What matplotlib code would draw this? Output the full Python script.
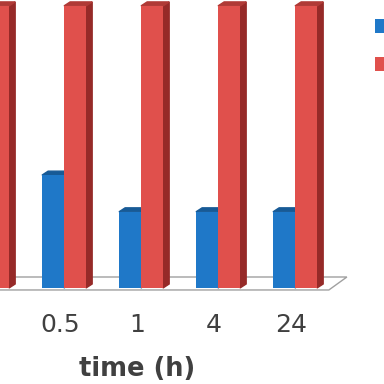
import matplotlib
matplotlib.use("Agg")
import matplotlib.pyplot as plt
from matplotlib.patches import Polygon
import numpy as np

# data (percent)
times = ['0', '0.5', '1', '4', '24']
blue_vals = [100, 40, 27, 27, 27]
red_vals = [100, 100, 100, 100, 100]

blue = '#1f78c8'
blue_dark = '#175a96'
red = '#e0504c'
red_dark = '#962a28'
red_top = '#b03a36'

fig = plt.figure(figsize=(3.84, 3.84), dpi=100)
ax = fig.add_axes([0, 96 / 384, 1, 288 / 384])

x = np.arange(len(times))
w = 0.286
dx, dy = 0.08, 1.42  # fake 3d depth

b_bars = ax.bar(x - w / 2, blue_vals, w, color=blue, zorder=3)
r_bars = ax.bar(x + w / 2, red_vals, w, color=red, zorder=3)


def depth(rect, side_c, top_c):
    x0, h, ww = rect.get_x(), rect.get_height(), rect.get_width()
    x1 = x0 + ww
    side = Polygon([(x1, 0), (x1 + dx, dy), (x1 + dx, h + dy), (x1, h)],
                   closed=True, color=side_c, zorder=2, clip_on=False)
    top = Polygon([(x0, h), (x0 + dx, h + dy), (x1 + dx, h + dy), (x1, h)],
                  closed=True, color=top_c, zorder=2, clip_on=False)
    ax.add_patch(side)
    ax.add_patch(top)


for b in b_bars:
    depth(b, blue_dark, blue_dark)
for r in r_bars:
    depth(r, red_dark, red_top)

# floor
fx1 = x[-1] + 0.44
gdx, gdy = 0.234, 3.9
floor = Polygon([(x[0] - 2, -0.7), (fx1, -0.7), (fx1 + gdx, gdy), (x[0] - 2 + gdx, gdy)],
                closed=True, facecolor='white', edgecolor='#a0a0a0', lw=1.0,
                zorder=1, clip_on=False)
ax.add_patch(floor)

ax.set_xticks(x - 0.05)
ax.set_xticklabels(times, fontsize=18, color='#404040')
ax.set_xlim(0.169, 0.169 + 384 / 77)
ax.set_ylim(0, 102.1)
ax.tick_params(axis='x', length=0, pad=18)
ax.set_yticks([])
for s in ax.spines.values():
    s.set_visible(False)
ax.set_xlabel('time (h)', fontsize=18.5, fontweight='bold', color='#404040')
ax.xaxis.set_label_coords(137 / 384, -68 / 288)
ax.patch.set_alpha(0)

ax.legend([b_bars, r_bars], ['control', 'drug'], loc='upper left',
          bbox_to_anchor=(375 / 384, 1 - 16 / 384), bbox_transform=fig.transFigure,
          frameon=False, handlelength=0.52, handleheight=0.52, fontsize=18,
          labelspacing=0.56, borderpad=0, borderaxespad=0, handletextpad=0.5)

fig.savefig('out.png', dpi=100)
